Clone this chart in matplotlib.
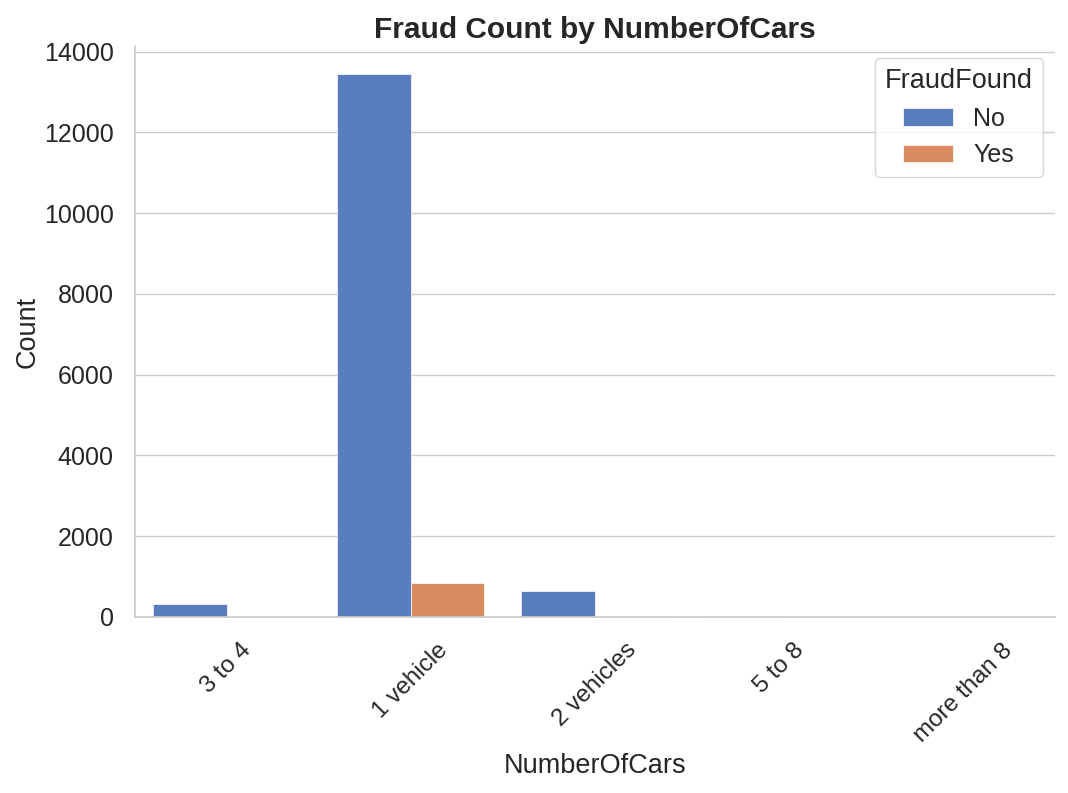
import matplotlib
matplotlib.use("Agg")
import matplotlib.pyplot as plt
import numpy as np
import seaborn as sns

categories = ["3 to 4", "1 vehicle", "2 vehicles", "5 to 8", "more than 8"]
hue_levels = ["No", "Yes"]
count_no = [320, 13450, 645, 18, 2]
count_yes = [10, 850, 20, 1, 0]

sns.set_theme(style="whitegrid", palette="muted")
plt.rcParams["font.family"] = ["Liberation Sans", "DejaVu Sans"]

# seaborn barplot desaturates its colours to 0.75 by default
colors = [sns.desaturate(c, 0.75) for c in sns.color_palette("muted", 2)]

fig, ax = plt.subplots(figsize=(10.68, 7.93), dpi=100)
fig.subplots_adjust(left=0.126, right=0.988, bottom=0.222, top=0.942)

x = np.arange(len(categories))
width = 0.4
ax.bar(x - width / 2, count_no, width, color=colors[0], label=hue_levels[0],
       edgecolor="white", linewidth=0.5)
ax.bar(x + width / 2, count_yes, width, color=colors[1], label=hue_levels[1],
       edgecolor="white", linewidth=0.5)

ax.set_xlim(-0.5, len(categories) - 0.5)
ax.set_ylim(0, 14140)
ax.set_xticks(x)
ax.set_xticklabels(categories, rotation=45, fontsize=17.5)
ax.tick_params(axis="x", pad=10)
ax.tick_params(axis="y", labelsize=18, pad=9)
ax.xaxis.grid(False)
ax.set_axisbelow(True)

ax.set_xlabel("NumberOfCars", fontsize=19.5, labelpad=5)
ax.set_ylabel("Count", fontsize=19.5, labelpad=2)
ax.set_title("Fraud Count by NumberOfCars", fontsize=21.5, fontweight="bold")

leg = ax.legend(title="FraudFound", fontsize=18, title_fontsize=19.5,
                loc="upper right", frameon=True)

sns.despine(ax=ax)

fig.savefig("out.png", dpi=100)
